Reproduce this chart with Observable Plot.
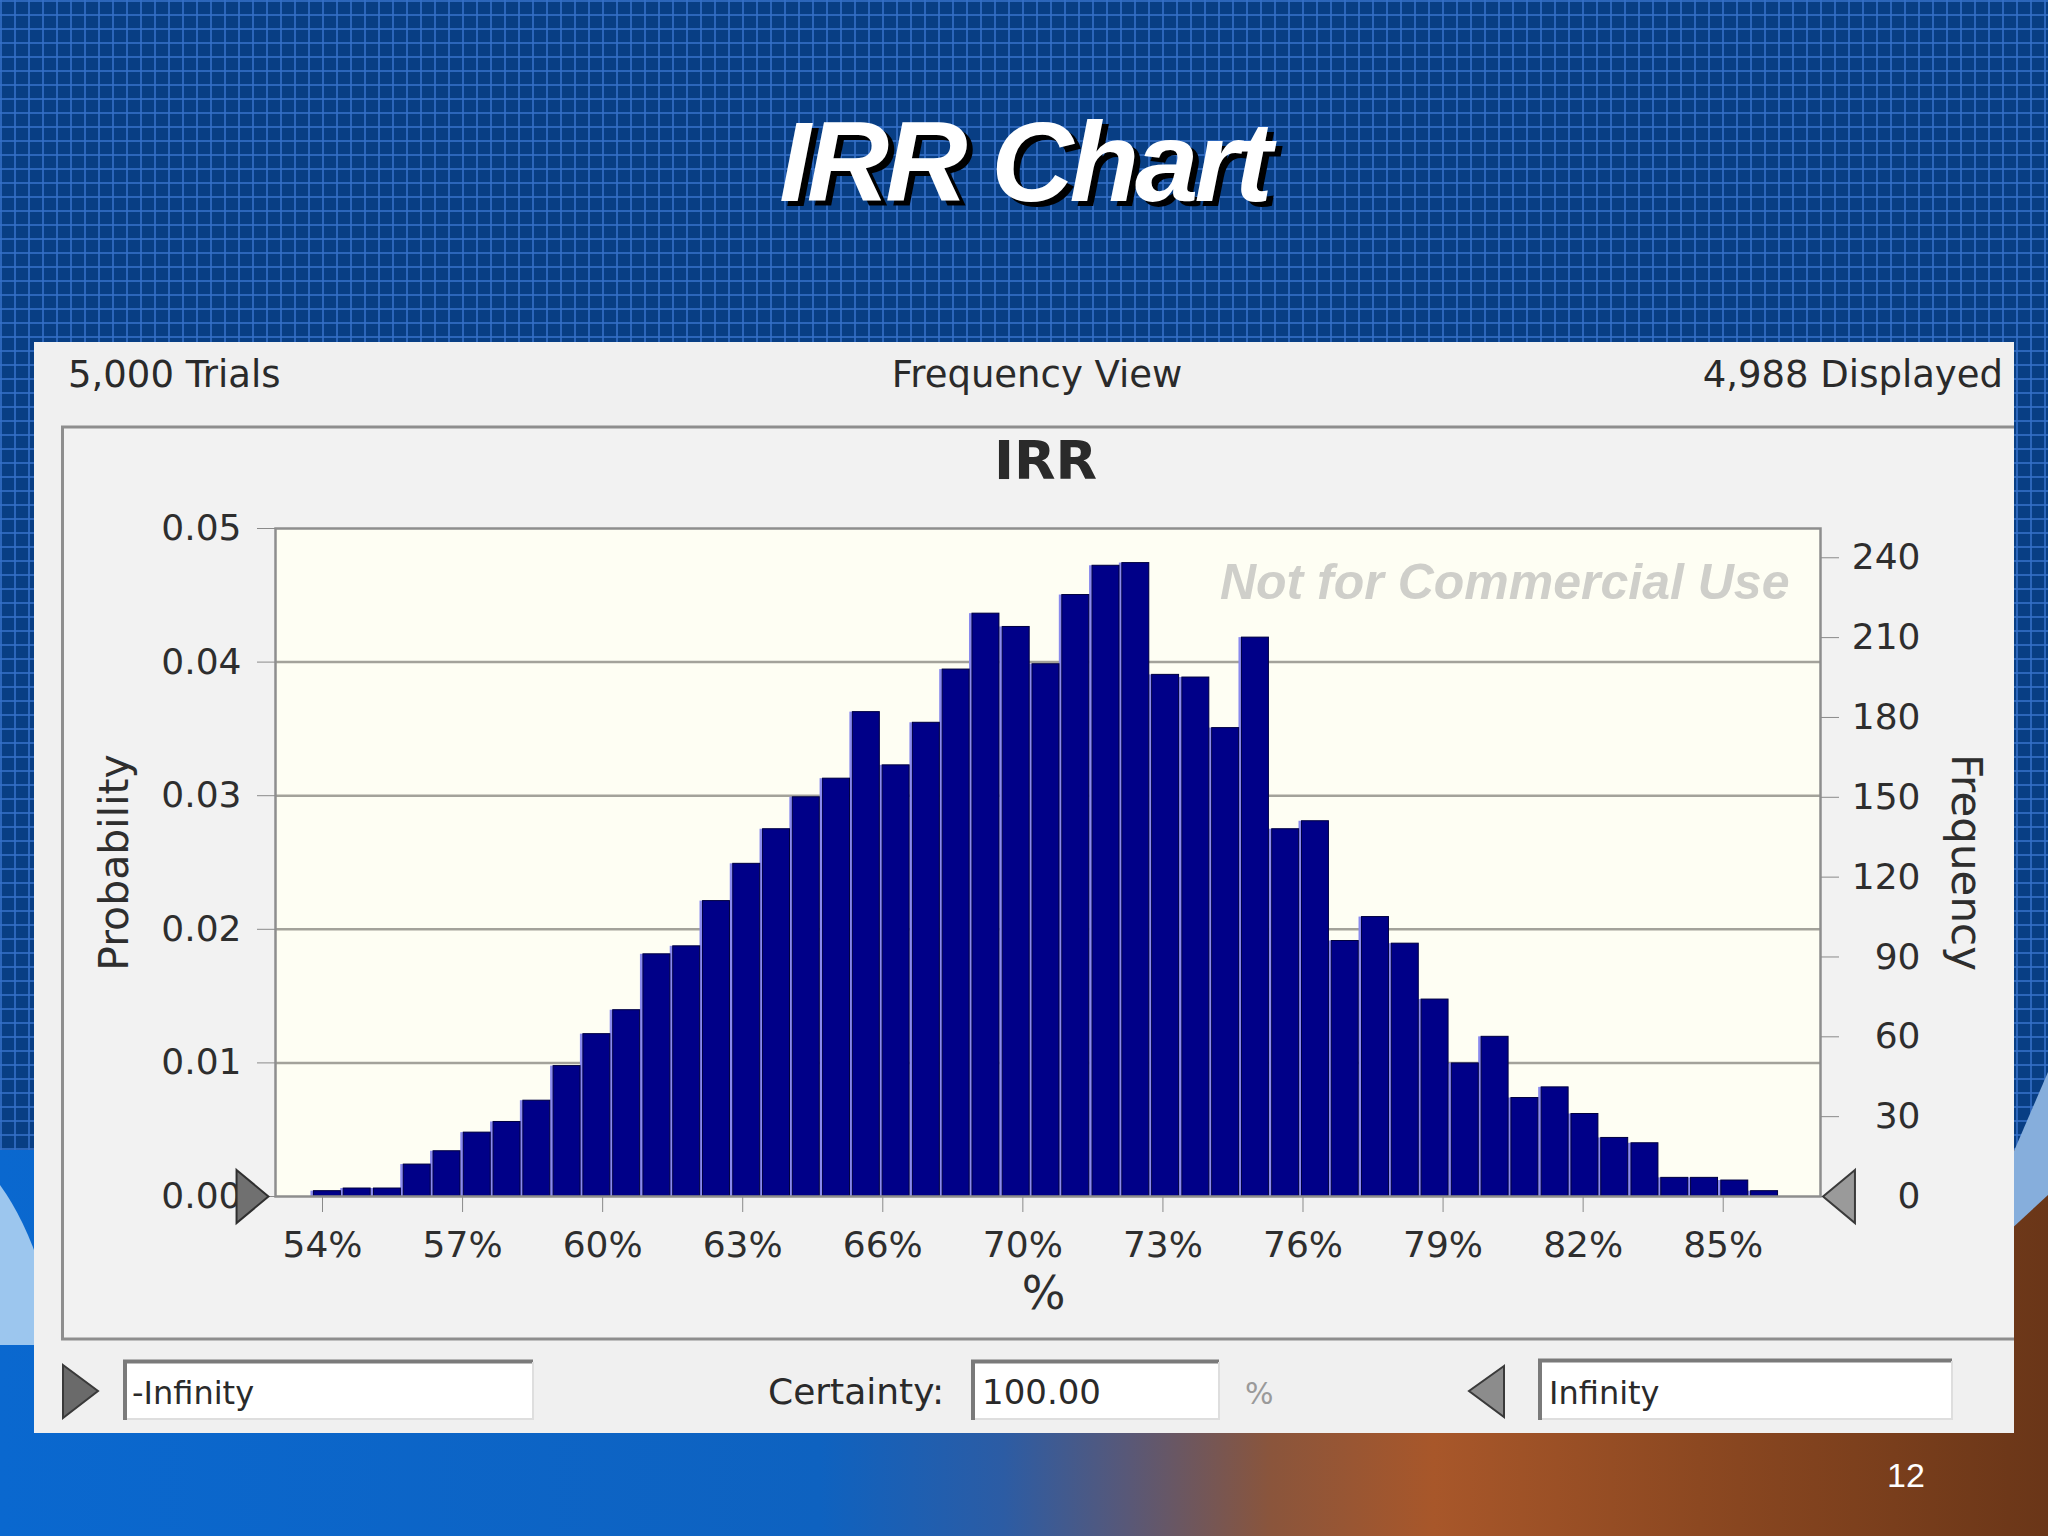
<!DOCTYPE html>
<html>
<head>
<meta charset="utf-8">
<script src="https://cdn.jsdelivr.net/npm/d3@7"></script>
<script src="https://cdn.jsdelivr.net/npm/@observablehq/plot@0.6"></script>
<style>
  html, body { margin: 0; padding: 0; }
  body {
    width: 2048px; height: 1536px; position: relative; overflow: hidden;
    background-color: #083e84;
    background-image:
      linear-gradient(rgba(52,112,200,0.8) 2px, transparent 2px),
      linear-gradient(90deg, rgba(52,112,200,0.8) 2px, transparent 2px);
    background-size: 14px 14px;
    font-family: 'DejaVu Sans', sans-serif;
  }
  #ui { position: absolute; left: 0; top: 0; z-index: 1; }
  #title {
    position: absolute; left: 0px; top: 104px; width: 2048px; text-align: center;
    font-family: 'Liberation Sans', Arial, sans-serif; font-weight: bold; font-style: italic;
    font-size: 114px; line-height: 116px; letter-spacing: -4px; color: #ffffff;
    text-shadow: 6px 5px 0 #000000; z-index: 3;
  }
  #chart { position: absolute; left: 62px; top: 429px; z-index: 2; }
</style>
</head>
<body>
<div id="title">IRR Chart</div>

<svg id="ui" width="2048" height="1536" xmlns="http://www.w3.org/2000/svg">
  <defs>
    <linearGradient id="band" x1="0" x2="1" y1="0" y2="0">
      <stop offset="0" stop-color="#0a68cf"/>
      <stop offset="0.40" stop-color="#0e62c0"/>
      <stop offset="0.49" stop-color="#2c5ca4"/>
      <stop offset="0.55" stop-color="#585878"/>
      <stop offset="0.62" stop-color="#8a553c"/>
      <stop offset="0.70" stop-color="#a8572a"/>
      <stop offset="0.83" stop-color="#8c4821"/>
      <stop offset="1" stop-color="#6a3618"/>
    </linearGradient>
  </defs>
  <!-- slide background lower band -->
  <rect x="0" y="1150" width="2048" height="386" fill="url(#band)"/>
  <path d="M0,1185 Q40,1240 60,1345 L0,1345 Z" fill="#9cc6ee"/>
  <polygon points="2008,1165 2048,1072 2048,1195 2008,1232" fill="#86aedc"/>

  <!-- application panel -->
  <rect x="34" y="342" width="1980" height="1091" fill="#f0f0f0"/>
  <rect x="62" y="427" width="1952" height="912" fill="#f2f2f2"/>
  <path d="M2014,427 H62.5 V1339 H2014" fill="none" stroke="#8e8e8e" stroke-width="3"/>

  <g font-family="'DejaVu Sans', sans-serif" font-size="37" fill="#2a2a2a">
    <text x="68" y="387">5,000 Trials</text>
    <text x="1037" y="387" text-anchor="middle">Frequency View</text>
    <text x="2003" y="387" text-anchor="end">4,988 Displayed</text>
  </g>

  <!-- bottom controls -->
  <path d="M63,1365 L98,1391 L63,1418 Z" fill="#6a6a6a" stroke="#3a3a3a" stroke-width="2"/>
  <rect x="125" y="1360" width="408" height="60" fill="#ffffff"/>
  <path d="M125,1420 V1361.5 H533" fill="none" stroke="#7a7a7a" stroke-width="4"/>
  <path d="M127,1419 H533 V1362" fill="none" stroke="#dedede" stroke-width="2"/>
  <text x="132" y="1404" font-family="'DejaVu Sans', sans-serif" font-size="32" fill="#2a2a2a">-Infinity</text>

  <text x="768" y="1404" font-family="'DejaVu Sans', sans-serif" font-size="36" fill="#2a2a2a">Certainty:</text>
  <rect x="973" y="1360" width="246" height="60" fill="#ffffff"/>
  <path d="M973,1420 V1361.5 H1219" fill="none" stroke="#7a7a7a" stroke-width="4"/>
  <path d="M975,1419 H1219 V1362" fill="none" stroke="#dedede" stroke-width="2"/>
  <text x="982" y="1404" font-family="'DejaVu Sans', sans-serif" font-size="34" fill="#2a2a2a">100.00</text>
  <text x="1245" y="1404" font-family="'DejaVu Sans', sans-serif" font-size="30" fill="#9a9a9a">%</text>

  <path d="M1504,1366 L1469,1391 L1504,1417 Z" fill="#8c8c8c" stroke="#3a3a3a" stroke-width="2"/>
  <rect x="1540" y="1359" width="412" height="61" fill="#ffffff"/>
  <path d="M1540,1420 V1360.5 H1952" fill="none" stroke="#7a7a7a" stroke-width="4"/>
  <path d="M1542,1419 H1952 V1361" fill="none" stroke="#dedede" stroke-width="2"/>
  <text x="1549" y="1404" font-family="'DejaVu Sans', sans-serif" font-size="32" fill="#2a2a2a">Infinity</text>

  <text x="1906" y="1487" text-anchor="middle" font-family="'Liberation Sans', Arial, sans-serif" font-size="34" fill="#ffffff">12</text>
</svg>

<div id="chart"></div>

<script>
// ---- data ----
const irrBinLow = [53.59, 54.26, 54.94, 55.61, 56.28, 56.96, 57.63, 58.30, 58.98, 59.65,
                   60.32, 61.00, 61.67, 62.34, 63.02, 63.69, 64.36, 65.04, 65.71, 66.38,
                   67.06, 67.73, 68.40, 69.08, 69.75, 70.42, 71.10, 71.77, 72.44, 73.12,
                   73.79, 74.46, 75.14, 75.81, 76.48, 77.16, 77.83, 78.50, 79.18, 79.85,
                   80.52, 81.20, 81.87, 82.54, 83.22, 83.89, 84.56, 85.24, 85.91];
const binWidth = 0.6733;
const frequency = [2, 3, 3, 12, 17, 24, 28, 36, 49, 61,
                   70, 91, 94, 111, 125, 138, 150, 157, 182, 162,
                   178, 198, 219, 214, 200, 226, 237, 238, 196, 195,
                   176, 210, 138, 141, 96, 105, 95, 74, 50, 60,
                   37, 41, 31, 22, 20, 7, 7, 6, 2];
const xTickValues = [53.85, 57.00, 60.15, 63.30, 66.45, 69.60, 72.75, 75.90, 79.05, 82.20, 85.35];
const xTickLabels = ["54%", "57%", "60%", "63%", "66%", "70%", "73%", "76%", "79%", "82%", "85%"];
const probTicks = [0, 0.01, 0.02, 0.03, 0.04, 0.05];
const freqTicks = [0, 30, 60, 90, 120, 150, 180, 210, 240];
const countPerProb = 5020;
const xDomain = [52.793, 87.538];

const bins = irrBinLow.map((lo, i) => ({lo, hi: lo + binWidth, count: frequency[i]}));

const rightTri = {draw(ctx, size) { const s = Math.sqrt(size);
  ctx.moveTo(-0.3 * s, -0.5 * s); ctx.lineTo(0.3 * s, 0); ctx.lineTo(-0.3 * s, 0.5 * s); ctx.closePath(); }};
const leftTri = {draw(ctx, size) { const s = Math.sqrt(size);
  ctx.moveTo(0.3 * s, -0.5 * s); ctx.lineTo(-0.3 * s, 0); ctx.lineTo(0.3 * s, 0.5 * s); ctx.closePath(); }};

const chart = Plot.plot({
  width: 1950,
  height: 909,
  marginLeft: 213,
  marginRight: 192,
  marginTop: 99,
  marginBottom: 142,
  x: {domain: xDomain, axis: null},
  y: {domain: [0, 0.05 * countPerProb], axis: null},
  style: {fontFamily: "'DejaVu Sans', sans-serif", fontSize: "36px", color: "#2a2a2a", background: "transparent", overflow: "visible"},
  marks: [
    Plot.frame({fill: "#fefef3"}),
    Plot.ruleY(probTicks.slice(1, 5).map(p => p * countPerProb), {stroke: "#a3a29a", strokeWidth: 2.5}),
    Plot.text(["Not for Commercial Use"], {frameAnchor: "top-right", textAnchor: "end", lineAnchor: "middle",
      dx: -31, dy: 54, fontFamily: "'Liberation Sans', Arial, sans-serif", fontWeight: "bold", fontStyle: "italic",
      fontSize: 50, fill: "#cfcfca"}),
    Plot.rectY(bins, {x1: "lo", x2: "hi", y: "count", fill: "#8a8aee"}),
    Plot.rectY(bins, {x1: "lo", x2: "hi", y: "count", fill: "#000088", stroke: "#000040", strokeWidth: 1, insetLeft: 3}),
    Plot.frame({stroke: "#8e8e8e", strokeWidth: 2.5}),
    Plot.axisY(probTicks.map(p => p * countPerProb), {anchor: "left", tickSize: 18, tickPadding: 16,
      tickFormat: d => (d / countPerProb).toFixed(2), label: null, stroke: "#8a8a8a", color: "#2e2e2e"}),
    // right axis: tick marks, then right-aligned labels
    Plot.axisY(freqTicks, {anchor: "right", tickSize: 18, tickFormat: () => "", label: null, stroke: "#8a8a8a"}),
    Plot.axisY(freqTicks, {anchor: "right", tickSize: 0, tickPadding: 100, textAnchor: "end",
      label: null, color: "#2e2e2e"}),
    Plot.axisX(xTickValues, {anchor: "bottom", tickSize: 16, tickPadding: 19,
      tickFormat: d => xTickLabels[xTickValues.indexOf(d)], label: null, stroke: "#8a8a8a", color: "#2e2e2e"}),
    Plot.text(["IRR"], {frameAnchor: "top", lineAnchor: "bottom", dx: -2.5, dy: -50, fontSize: 54, fontWeight: "bold", fill: "#2a2a2a"}),
    Plot.text(["%"], {frameAnchor: "bottom", lineAnchor: "bottom", dx: -4.5, dy: 112, fontSize: 46, fill: "#2e2e2e"}),
    Plot.text(["Probability"], {frameAnchor: "left", textAnchor: "middle", rotate: -90, dx: -161, fontSize: 41, fill: "#2e2e2e"}),
    Plot.text(["Frequency"], {frameAnchor: "right", textAnchor: "middle", rotate: 90, dx: 145, fontSize: 42, fill: "#2e2e2e"}),
    Plot.dot([{x: xDomain[0], y: 0}], {x: "x", y: "y", dx: -23, symbol: rightTri, r: 30, fill: "#707070", stroke: "#2f2f2f", strokeWidth: 2}),
    Plot.dot([{x: xDomain[1], y: 0}], {x: "x", y: "y", dx: 18.5, symbol: leftTri, r: 30, fill: "#9a9a9a", stroke: "#3a3a3a", strokeWidth: 2})
  ]
});
document.getElementById("chart").appendChild(chart);
</script>
</body>
</html>
